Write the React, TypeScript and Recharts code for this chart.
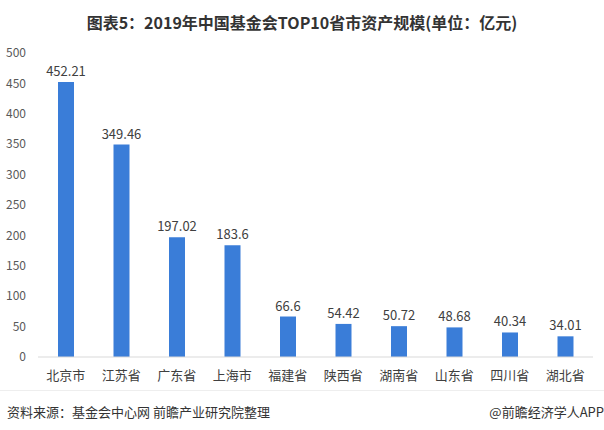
import { Bar, BarChart, LabelList, XAxis, YAxis } from "recharts"

const provinces = ["北京市", "江苏省", "广东省", "上海市", "福建省", "陕西省", "湖南省", "山东省", "四川省", "湖北省"]
const assets = [452.21, 349.46, 197.02, 183.6, 66.6, 54.42, 50.72, 48.68, 40.34, 34.01]
const yTicks = [0, 50, 100, 150, 200, 250, 300, 350, 400, 450, 500]

const font = '"Noto Sans CJK SC", "Noto Sans", sans-serif'

export default function App() {
  const data = provinces.map((name, i) => ({ name, value: assets[i] }))

  return (
    <div
      style={{
        position: "absolute",
        left: 0,
        top: 0,
        width: 604,
        height: 430,
        background: "#fff",
        fontFamily: font,
        overflow: "hidden",
      }}
    >
      <div
        style={{
          position: "absolute",
          top: 10,
          left: 0,
          width: 604,
          textAlign: "center",
          fontSize: 16,
          fontWeight: "bold",
          color: "#333",
          lineHeight: "24px",
        }}
      >
        图表5：2019年中国基金会TOP10省市资产规模(单位：亿元)
      </div>

      <BarChart
        width={604}
        height={430}
        data={data}
        margin={{ top: 53, right: 11, bottom: 43, left: 0 }}
      >
        <XAxis
          dataKey="name"
          height={30}
          axisLine={{ stroke: "#d9d9d9" }}
          tickLine={false}
          tickSize={0}
          tickMargin={14}
          interval={0}
          tick={{ fill: "#404040", fontSize: 13, fontFamily: font }}
        />
        <YAxis
          width={38}
          domain={[0, 500]}
          ticks={yTicks}
          axisLine={false}
          tickLine={false}
          tickSize={0}
          tickMargin={12}
          tick={{ fill: "#595959", fontSize: 12, fontFamily: font }}
        />
        <Bar dataKey="value" fill="#3a7dd8" barSize={16} isAnimationActive={false}>
          <LabelList
            dataKey="value"
            position="top"
            offset={6}
            fill="#404040"
            fontSize={13}
            fontFamily={font}
          />
        </Bar>
      </BarChart>

      <div
        style={{
          position: "absolute",
          top: 390,
          left: 0,
          width: 604,
          height: 1,
          background: "#eeeeee",
        }}
      />
      <div
        style={{
          position: "absolute",
          top: 402,
          left: 7,
          fontSize: 13,
          color: "#333",
          lineHeight: "20px",
        }}
      >
        资料来源：基金会中心网 前瞻产业研究院整理
      </div>
      <div
        style={{
          position: "absolute",
          top: 402,
          right: 0,
          fontSize: 13,
          color: "#333",
          lineHeight: "20px",
        }}
      >
        @前瞻经济学人APP
      </div>
    </div>
  )
}
